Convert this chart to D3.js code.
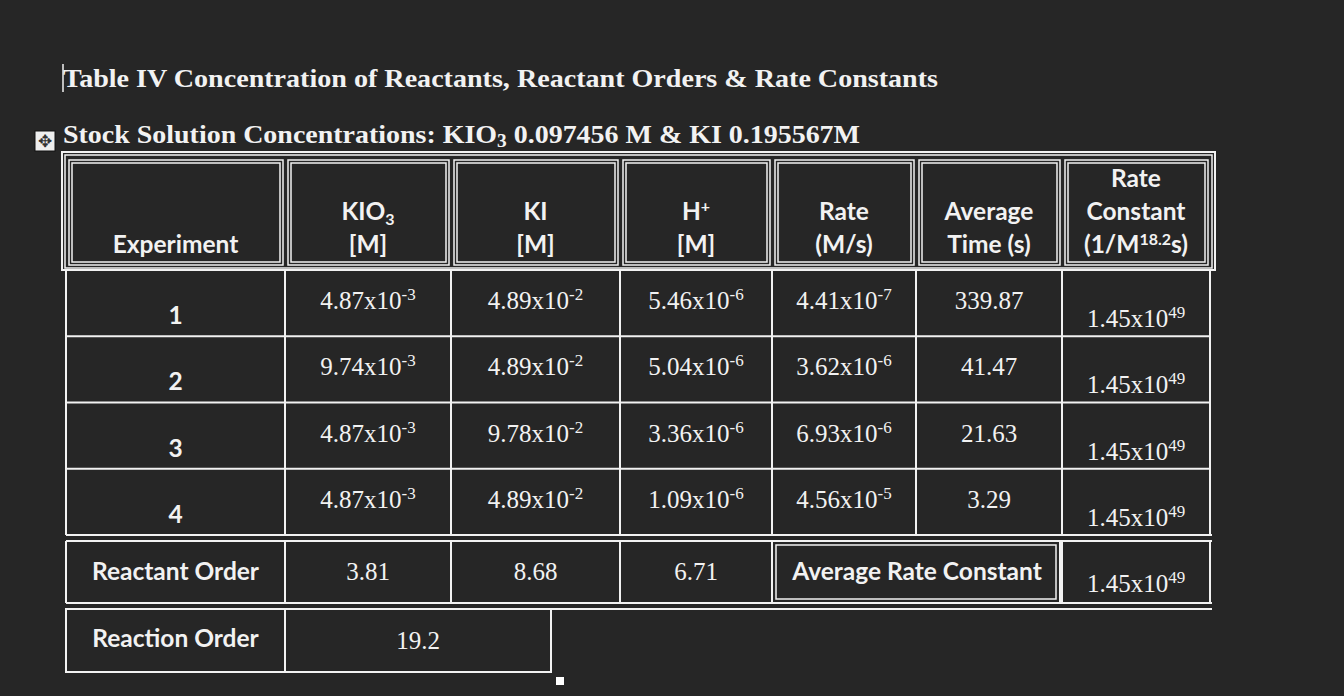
<!DOCTYPE html><html><head><meta charset="utf-8">
<script src="https://cdn.jsdelivr.net/npm/d3@7"></script>
<style>body{margin:0;background:#262626}</style></head><body><svg id="c" width="1344" height="696"></svg>
<script>
const title = "Table IV Concentration of Reactants, Reactant Orders  & Rate Constants";
const subtitle = ["Stock Solution Concentrations:  KIO", "3", " 0.097456 M & KI 0.195567M"];
const experiments = ["1","2","3","4"];
const kio3 = [["4.87x10","-3"],["9.74x10","-3"],["4.87x10","-3"],["4.87x10","-3"]];
const ki = [["4.89x10","-2"],["4.89x10","-2"],["9.78x10","-2"],["4.89x10","-2"]];
const hplus = [["5.46x10","-6"],["5.04x10","-6"],["3.36x10","-6"],["1.09x10","-6"]];
const rate = [["4.41x10","-7"],["3.62x10","-6"],["6.93x10","-6"],["4.56x10","-5"]];
const avgTime = [["339.87",""],["41.47",""],["21.63",""],["3.29",""]];
const rateK = [["1.45x10","49"],["1.45x10","49"],["1.45x10","49"],["1.45x10","49"]];
const reactantOrders = ["3.81","8.68","6.71"];
const avgRateK = ["1.45x10","49"];
const reactionOrder = "19.2";

const svg = d3.select("#c"), W="#f2f2f2";
const sans="Lato, 'Open Sans', sans-serif", serif="'Liberation Serif', 'DejaVu Serif', serif";
const colX=[66,285,451,620,772,916,1062,1210];
const x = i=>colX[i], cx=i=>(colX[i]+colX[i+1])/2;
const y = d3.scaleLinear().domain([0,4]).range([270,535]);

svg.append("text").attr("x",63).attr("y",87).attr("fill",W).attr("font-family",serif).attr("font-weight","bold").attr("font-size",26).attr("textLength",875).attr("lengthAdjust","spacingAndGlyphs").text(title);
svg.append("line").attr("x1",63).attr("x2",63).attr("y1",64).attr("y2",92).attr("stroke",W).attr("stroke-width",1.5);
const st=svg.append("text").attr("x",63).attr("y",143).attr("fill",W).attr("font-family",serif).attr("font-weight","bold").attr("font-size",26).attr("textLength",797).attr("lengthAdjust","spacingAndGlyphs");
st.append("tspan").text(subtitle[0]);st.append("tspan").attr("font-size",18).attr("dy",4).text(subtitle[1]);st.append("tspan").attr("dy",-4).text(subtitle[2]);
const g0=svg.append("g");
g0.append("rect").attr("x",35).attr("y",131).attr("width",20).attr("height",20).attr("fill","#eee").attr("stroke","#111");
g0.append("text").attr("x",45).attr("y",147).attr("text-anchor","middle").attr("font-size",17).attr("fill","#333").text("✥");
svg.append("rect").attr("x",556).attr("y",677).attr("width",8).attr("height",8).attr("fill","#fff");

function line(x1,y1,x2,y2,w=2){svg.append("line").attr("x1",x1).attr("y1",y1).attr("x2",x2).attr("y2",y2).attr("stroke",W).attr("stroke-width",w);}
function rect(x0,y0,x1,y1,w=1.5){svg.append("rect").attr("x",x0).attr("y",y0).attr("width",x1-x0).attr("height",y1-y0).attr("fill","none").attr("stroke",W).attr("stroke-width",w);}
rect(62,152,1215,270,2); rect(65,155,1212,268,1.5);
for(let i=0;i<7;i++){rect(x(i)+3,160,x(i+1)-2,265,1.5);rect(x(i)+6,163,x(i+1)-5,262,1.5);}
line(66,270,66,535);line(1210,270,1210,535);
for(let r=1;r<4;r++)line(66,y(r),1210,y(r));
for(let i=1;i<7;i++)line(x(i),270,x(i),535);
[[535,541],[603,609]].forEach(([a,b])=>{line(66,a,1212,a);line(66,b,1212,b);});
line(66,541,66,603);line(1210,541,1210,603);
[1,2,3,6].forEach(i=>line(x(i),541,x(i),603));
rect(x(4),541,x(6)-2,603,2);rect(x(4)+4,545,x(6)-6,599,1.5);
rect(66,609,551,672,2);line(x(1),609,x(1),672);

function sup(tx,yy,v,fs=25){const t=svg.append("text").attr("x",tx).attr("y",yy).attr("text-anchor","middle").attr("fill",W).attr("font-family",serif).attr("font-size",fs);t.append("tspan").text(v[0]);if(v[1])t.append("tspan").attr("dy",-9).attr("font-size",fs*0.68).text(v[1]);}
function hdr(i,lines){lines.forEach((l,k)=>{const t=svg.append("text").attr("x",cx(i)).attr("y",253-(lines.length-1-k)*33).attr("text-anchor","middle").attr("fill",W).attr("font-family",sans).attr("font-weight","bold").attr("font-size",24.5);
 if(Array.isArray(l)){t.append("tspan").text(l[0]);t.append("tspan").attr("font-size",16).attr("dy",l[2]).text(l[1]);if(l[3])t.append("tspan").attr("dy",-l[2]).text(l[3]);}else t.text(l);});}
hdr(0,["Experiment"]);hdr(1,[["KIO","3",5],"[M]"]);hdr(2,["KI","[M]"]);hdr(3,[["H","+",-8],"[M]"]);
hdr(4,["Rate","(M/s)"]);hdr(5,["Average","Time (s)"]);hdr(6,["Rate","Constant",["(1/M","18.2",-8,"s)"]]);
[kio3,ki,hplus,rate,avgTime].forEach((col,c)=>col.forEach((v,r)=>sup(cx(c+1),y(r)+39,v)));
experiments.forEach((e,r)=>svg.append("text").attr("x",cx(0)).attr("y",y(r)+54).attr("text-anchor","middle").attr("fill",W).attr("font-family",sans).attr("font-weight","bold").attr("font-size",24.5).text(e));
rateK.forEach((v,r)=>sup(cx(6),y(r)+57,v));
function bold(tx,yy,s){svg.append("text").attr("x",tx).attr("y",yy).attr("text-anchor","middle").attr("fill",W).attr("font-family",sans).attr("font-weight","bold").attr("font-size",24.5).text(s);}
bold(cx(0),580,"Reactant Order");
reactantOrders.forEach((v,i)=>sup(cx(i+1),580,[v,""]));
bold((x(4)+x(6))/2,580,"Average Rate Constant");
sup(cx(6),592,avgRateK);
bold(cx(0),647,"Reaction Order");
sup((x(1)+551)/2,649,[reactionOrder,""]);
</script></body></html>
